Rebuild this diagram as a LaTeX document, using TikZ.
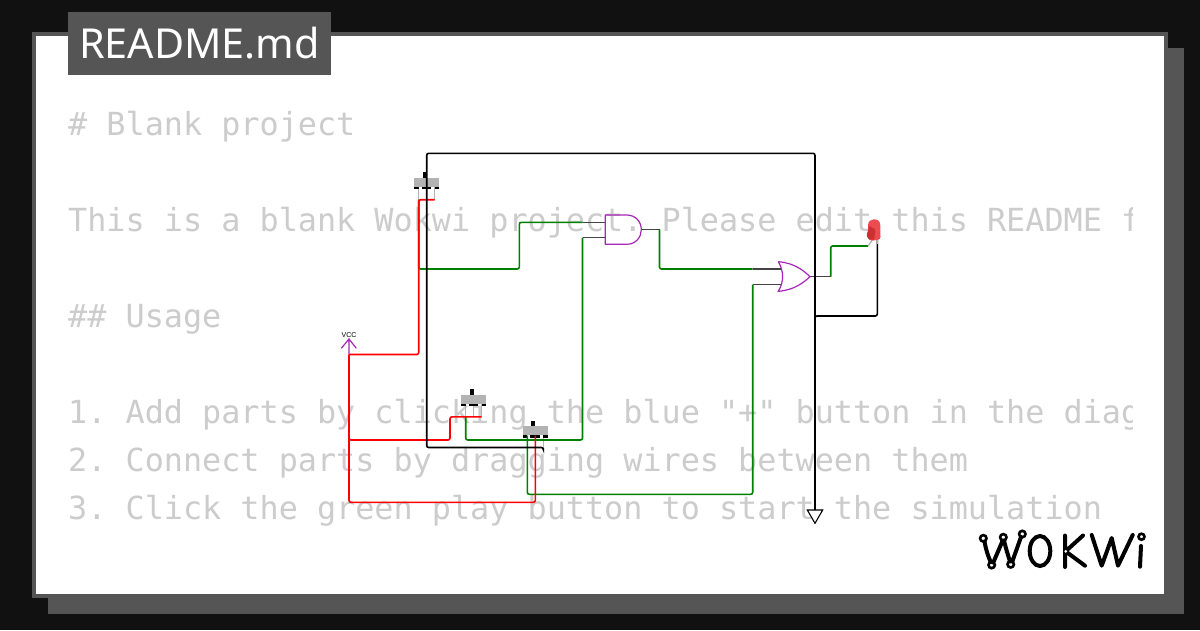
\documentclass[tikz,border=0pt]{standalone}
\usepackage{fontspec}
\setmainfont{Noto Sans}
\newfontfamily\monofnt{DejaVu Sans Mono}
\newfontfamily\labelfnt{Liberation Sans}
\definecolor{bgdark}{HTML}{111111}
\definecolor{framegray}{HTML}{555555}
\definecolor{pintone}{HTML}{444444}
\definecolor{gatepurple}{HTML}{A626B8}
\definecolor{wiregreen}{HTML}{008000}
\definecolor{swgray}{HTML}{B3B3B3}
\definecolor{ledred}{HTML}{EC4B50}
\definecolor{leddark}{HTML}{C9302F}
\tikzset{
	readmeline/.style={anchor=base west, inner sep=0pt, text=black!20, font=\monofnt\fontsize{31.8}{32}\selectfont},
	redwire/.style={draw=red, line width=1.6pt, rounded corners=2pt},
	greenwire/.style={draw=wiregreen, line width=1.6pt, rounded corners=2pt},
	blackwire/.style={draw=black, line width=1.6pt, rounded corners=2pt},
	pinstub/.style={draw=pintone, line width=1.4pt},
	swpin/.style={draw=swgray, line width=1.2pt},
	gateline/.style={draw=gatepurple, line width=1.2pt, fill=none},
	swbody/.style={fill=swgray, minimum width=25.3pt, minimum height=8.6pt, inner sep=0pt},
	logostroke/.style={draw=black, line width=4pt, line cap=round, line join=round}
}
\begin{document}
\frenchspacing
\begin{tikzpicture}[x=1pt,y=-1pt]
	\useasboundingbox (0,0) rectangle (1200,630);
	\fill[bgdark] (0,0) rectangle (1200,630);
	\fill[framegray] (48,48) rectangle (1184,614);
	\filldraw[fill=white, draw=framegray, line width=4pt] (34,34) rectangle (1166,596);

	% readme text
	\begin{scope}
		\clip (68,80) rectangle (1132,540);
		\node[readmeline] (lineone) at (68,135) {\# Blank project};
		\node[readmeline] (linetwo) at (68,231) {This is a blank Wokwi project. Please edit this README f};
		\node[readmeline] (linethree) at (68,327) {\#\# Usage};
		\node[readmeline] (linefour) at (68,423) {1. Add parts by clicking the blue "+" button in the diag};
		\node[readmeline] (linefive) at (68,471) {2. Connect parts by dragging wires between them};
		\node[readmeline] (linesix) at (68,519) {3. Click the green play button to start the simulation};
	\end{scope}

	% tab
	\node[fill=framegray, text=white, minimum width=263pt, minimum height=63pt, inner sep=0pt, font=\fontsize{41.3}{41}\selectfont] (readmetab) at (199.5,43.5) {README.md};

	% switches
	\foreach \name/\cx/\cy in {swa/426.7/182.2, swb/473.7/399.3, swc/535.3/430.6} {
		\coordinate (\name-l) at (\cx-8,\cy+5);
		\coordinate (\name-m) at (\cx,\cy+5);
		\coordinate (\name-r) at (\cx+8,\cy+5);
		\coordinate (\name-lp) at (\cx-8,\cy+17.5);
		\coordinate (\name-mp) at (\cx,\cy+17.5);
		\coordinate (\name-rp) at (\cx+8,\cy+17.5);
		\draw[swpin] (\name-l) -- (\name-lp) (\name-m) -- (\name-mp) (\name-r) -- (\name-rp);
		\node[swbody] (\name) at (\cx,\cy) {};
		\fill[black] (\cx-4.2,\cy-4.3) rectangle (\cx,\cy-10);
		\fill[black] (\cx-12.6,\cy+4.3) rectangle (\cx-8,\cy+7);
		\fill[black] (\cx-5,\cy+4.3) rectangle (\cx+4.7,\cy+7);
		\fill[black] (\cx+8,\cy+4.3) rectangle (\cx+12.6,\cy+7);
	}

	% power symbols
	\coordinate (vcctip) at (349,339);
	\coordinate (vccpin) at (349,354.5);
	\coordinate (gndtop) at (815,510);
	\node[inner sep=0pt, font=\labelfnt\fontsize{7}{7}\selectfont] (vcclabel) at (349,335) {VCC};
	\draw[gateline] (341.3,348.3) -- (vcctip) -- (356.3,348.3) (vcctip) -- (vccpin);
	\draw[black, line width=1.1pt] (gndtop) -- ++(-7.7,0) -- (815,523.3) -- (822.7,510) -- cycle;

	% gates
	\coordinate (anda) at (605.3,222.3);
	\coordinate (andb) at (605.3,237.7);
	\coordinate (andout) at (641.3,229.7);
	\coordinate (ora) at (781,269);
	\coordinate (orb) at (781,284.7);
	\coordinate (orout) at (810,276.7);
	\draw[pinstub] (582.5,222.3) -- (anda) (582.5,237.7) -- (andb) (andout) -- (659.5,229.7);
	\draw[pinstub] (752.7,269) -- (ora) (752.7,284.7) -- (orb) (orout) -- (830.7,276.7);
	\draw[gateline, line join=round] (626.5,215) -- (605.3,215) -- (605.3,244.3) -- (626.5,244.3) .. controls (636,244.3) and (641.3,237) .. (andout) .. controls (641.3,222) and (636,215) .. (626.5,215);
	\draw[gateline] (778.3,261.7) .. controls (795,263) and (804,271) .. (orout) .. controls (804,282) and (795,290) .. (778.3,291.3) .. controls (784,282) and (784,271) .. (778.3,261.7);

	% wires
	\draw[greenwire] (swa-lp) -- (418.7,269) -- (519.3,269) -- (519.3,222.3) -- (582.5,222.3);
	\draw[greenwire] (swb-lp) -- (465.7,440) -- (582.5,440) -- (582.5,237.7);
	\draw[greenwire] (659.5,229.7) -- (659.5,269) -- (752.7,269);
	\draw[greenwire] (swc-l) -- (527.3,494.3) -- (752.7,494.3) -- (752.7,284.7);
	\draw[greenwire] (830.7,276.7) -- (830.7,246) -- (868,246);
	\draw[redwire] (vccpin) -- (418.7,354.5) -- (418.7,199.7) -- (swa-rp);
	\draw[redwire] (vccpin) -- (349,440) -- (450,440) -- (450,416.8) -- (swb-rp);
	\draw[redwire] (349,430) -- (349,502.3) -- (535.3,502.3) -- (swc-m);
	\draw[blackwire] (swa-m) -- (426.7,153.3) -- (815,153.3) -- (gndtop);
	\draw[blackwire] (swa-m) -- (426.7,447.5) -- (543.3,447.5) -- (swc-rp);
	\draw[blackwire] (877.3,240) -- (877.3,316) -- (815,316) -- (815,330);

	% led
	\coordinate (ledanode) at (873,239);
	\coordinate (ledcathode) at (877.3,239);
	\draw[swpin] (ledanode) -- (868,246);
	\draw[swpin] (ledcathode) -- (877.3,244);
	\fill[ledred] (868,238) -- (868,225.5) .. controls (868,221) and (871,219.3) .. (874,219.3) .. controls (877.5,219.3) and (880.3,221) .. (880.3,225.5) -- (880.5,237) .. controls (880.5,240) and (876,240.5) .. (873,240.5) .. controls (870,240.5) and (868,240) .. (868,238) -- cycle;
	\fill[leddark] (866.8,235) .. controls (866.8,232) and (868,231.5) .. (868.5,230) -- (868.5,226) -- (875,229) -- (875,234) -- (874,239.5) .. controls (870,240) and (866.8,238.5) .. (866.8,235) -- cycle;

	% logo
	\foreach \p/\r in {(983.3,538.3)/3.2,(1003.3,537.3)/3.2,(1022.3,534)/3.2,(991.7,565)/3.2,(1010.7,564.3)/3.2} {
		\draw[black, line width=2.6pt] \p circle (\r pt);
	}
	\draw[logostroke] (984.5,541.5) .. controls (986,550) and (988,556) .. (990.7,562) (993.3,562.5) -- (1002.7,540.5) (1004,540.5) .. controls (1006,549) and (1008,555) .. (1010,561.5) (1012.3,561.5) -- (1021,537);
	\draw[black, line width=4pt] (1040,551) ellipse (10.3pt and 15pt);
	\draw[logostroke] (1065,535.5) -- (1065,567) (1066.5,550.5) -- (1083,535.5) (1066.5,552) -- (1085,565.7);
	\fill[white] (1065.8,551.4) circle (1.5pt);
	\draw[logostroke] (1091.7,535) -- (1101.7,565.7) -- (1111.7,538) -- (1118,565.7) -- (1132.7,535);
	\draw[logostroke] (1141,546) -- (1140,566.7);
	\draw[black, line width=2.6pt] (1141.5,536.7) circle (3pt);
\end{tikzpicture}
\end{document}
